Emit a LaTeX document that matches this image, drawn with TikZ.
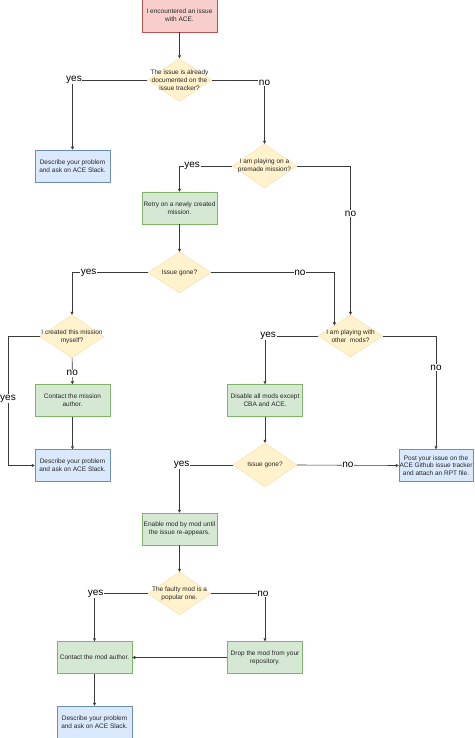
\documentclass[tikz,border=0pt]{standalone}
\usepackage{fontspec}
\setmainfont{Liberation Sans}
\usetikzlibrary{shapes.geometric,arrows.meta}
\definecolor{redfill}{HTML}{F8CECC}\definecolor{redline}{HTML}{B85450}
\definecolor{yelfill}{HTML}{FFF2CC}\definecolor{yelline}{HTML}{F2DFA6}
\definecolor{grnfill}{HTML}{D5E8D4}\definecolor{grnline}{HTML}{82B366}
\definecolor{blufill}{HTML}{DAE8FC}\definecolor{bluline}{HTML}{6C8EBF}
\definecolor{edgecol}{HTML}{3A3A3A}
\tikzset{
  x=1pt,y=-1pt,
  boxbase/.style={rectangle,minimum width=75pt,minimum height=32pt,inner sep=0pt,align=center,font=\fontsize{6.5}{7.8}\selectfont,text=black!85},
  redbox/.style={boxbase,fill=redfill,draw=redline,line width=0.5pt},
  grnbox/.style={boxbase,fill=grnfill,draw=grnline,line width=0.5pt},
  blubox/.style={boxbase,fill=blufill,draw=bluline,line width=0.5pt},
  decbox/.style={diamond,minimum width=64pt,minimum height=43pt,inner sep=0pt,fill=yelfill,draw=yelline,line width=0.4pt},
  dectext/.style={align=center,font=\fontsize{6.5}{7.8}\selectfont,text=black!85,inner sep=0pt},
  conn/.style={draw=edgecol,line width=0.6pt,-{Triangle[length=3pt,width=3pt]}},
  lab/.style={fill=white,inner sep=0.6pt,font=\fontsize{10}{10}\selectfont,text=black}
}
\begin{document}
\begin{tikzpicture}
\useasboundingbox (0,0) rectangle (474,738);
\fill[white] (0,0) rectangle (474,738);
% nodes
\node[redbox,minimum height=34pt] (start) at (179.5,15) {I encountered an issue\\with ACE.};
\node[decbox] (d1) at (179.5,80) {};
\node[dectext] (d1t) at (179.5,80) {The issue is already\\documented on the\\issue tracker?};
\node[blubox] (desc1) at (72.5,166) {Describe your problem\\and ask on ACE Slack.};
\node[decbox,minimum height=44pt] (d2) at (264.5,166) {};
\node[dectext] (d2t) at (264.5,166) {I am playing on a\\premade mission?};
\node[grnbox] (retry) at (179.5,208) {Retry on a newly created\\mission.};
\node[decbox,minimum width=63pt,minimum height=41pt] (gone1) at (179.5,272.5) {};
\node[dectext] (gone1t) at (179.5,272.5) {Issue gone?};
\node[decbox] (created) at (72,336.5) {};
\node[dectext] (createdt) at (72,336.5) {I created this mission\\myself?};
\node[decbox,minimum height=42pt] (mods) at (350.5,336) {};
\node[dectext] (modst) at (350.5,336) {I am playing with\\other~ mods?};
\node[grnbox] (contact) at (72.5,400.5) {Contact the mission\\author.};
\node[blubox] (desc2) at (72.5,465.5) {Describe your problem\\and ask on ACE Slack.};
\node[grnbox] (disable) at (265,400.5) {Disable all mods except\\CBA and ACE.};
\node[blubox,minimum width=74pt] (post) at (436,465.5) {Post your issue on the\\ACE Github issue tracker\\and attach an RPT file.};
\node[decbox,minimum height=44pt] (gone2) at (265,465) {};
\node[dectext] (gone2t) at (265,465) {Issue gone?};
\node[grnbox] (enable) at (179.5,529) {Enable mod by mod until\\the issue re-appears.};
\node[decbox,minimum width=63pt] (faulty) at (179.5,593.5) {};
\node[dectext] (faultyt) at (179.5,593.5) {The faulty mod is a\\popular one.};
\node[grnbox] (contactmod) at (94.5,657.5) {Contact the mod author.};
\node[grnbox] (drop) at (265,657.5) {Drop the mod from your\\repository.};
\node[blubox] (desc3) at (94.5,722) {Describe your problem\\and ask on ACE Slack.};
% connectors
\draw[conn] (start) -- (d1);
\draw[conn] (d1.west) -| (desc1.north) node[lab,pos=0.49] {yes};
\draw[conn] (d1.east) -| (d2.north) node[lab,pos=0.52] {no};
\draw[conn] (d2.west) -| (retry.north) node[lab,pos=0.38] {yes};
\draw[conn] (d2.east) -| (mods.north) node[lab,pos=0.66] {no};
\draw[conn] (retry) -- (gone1);
\draw[conn] (gone1.west) -| (created.north) node[lab,pos=0.39] {yes};
\draw[conn] (gone1.east) -| (mods.north west) node[lab,pos=0.36] {no};
\draw[conn] (created.west) -- (8,336.5) |- (desc2.west) node[lab,pos=0.24] {yes};
\draw[conn] (created) -- (contact) node[lab,pos=0.58] {no};
\draw[conn] (contact) -- (desc2);
\draw[conn] (mods.west) -| (disable.north) node[lab,pos=0.47] {yes};
\draw[conn] (mods.east) -| (post.north) node[lab,pos=0.64] {no};
\draw[conn] (disable) -- (gone2);
\draw[conn] (gone2.west) -| (enable.north) node[lab,pos=0.48] {yes};
\draw[conn] (gone2.east) -- (post.west) node[lab,pos=0.5] {no};
\draw[conn] (enable) -- (faulty);
\draw[conn] (faulty.west) -| (contactmod.north) node[lab,pos=0.49] {yes};
\draw[conn] (faulty.east) -| (drop.north) node[lab,pos=0.48] {no};
\draw[conn] (drop) -- (contactmod);
\draw[conn] (contactmod) -- (desc3);
\end{tikzpicture}
\end{document}
